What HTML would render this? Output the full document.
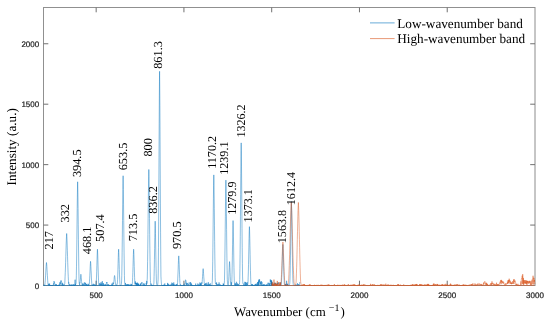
<!DOCTYPE html>
<html lang="en"><head><meta charset="utf-8"><title>Raman spectrum</title>
<style>html,body{margin:0;padding:0;background:#fff}body{width:550px;height:324px;position:relative;overflow:hidden}</style></head>
<body>
<svg width="550" height="324" viewBox="0 0 550 324" style="position:absolute;left:0;top:0">
<rect width="550" height="324" fill="#fff"/>
<path d="M43.5,285.5V7.5H535.0M43.5,285.5H535.0" fill="none" stroke="#909090" stroke-width="1" shape-rendering="crispEdges"/>
<path d="M535.0,7.0V286.0" fill="none" stroke="#8c8c8c" stroke-width="1"/>
<path d="M96.16,285.5v-4.8M96.16,7.5v4.8M183.93,285.5v-4.8M183.93,7.5v4.8M271.70,285.5v-4.8M271.70,7.5v4.8M359.46,285.5v-4.8M359.46,7.5v4.8M447.23,285.5v-4.8M447.23,7.5v4.8M43.5,225.07h4.8M535.0,225.07h-4.8M43.5,164.63h4.8M535.0,164.63h-4.8M43.5,104.20h4.8M535.0,104.20h-4.8M43.5,43.76h4.8M535.0,43.76h-4.8" fill="none" stroke="#707070" stroke-width="1"/>
<path d="M43.50,285.50 43.68,285.50 43.85,284.81 44.03,285.48 44.20,284.82 44.38,285.38 44.55,285.22 44.73,284.99 44.90,284.54 45.08,282.19 45.26,280.73 45.43,277.94 45.61,275.17 45.78,271.96 45.96,269.00 46.13,266.17 46.31,264.00 46.48,262.53 46.66,264.00 46.84,266.28 47.01,269.14 47.19,272.27 47.36,275.31 47.54,277.97 47.71,280.73 47.89,282.83 48.06,284.49 48.24,284.70 48.41,283.97 48.59,284.89 48.77,285.45 48.94,285.48 49.12,283.51 49.29,285.32 49.47,284.03 49.64,283.77 49.82,285.50 49.99,285.50 50.17,285.50 50.35,285.50 50.52,285.50 50.70,285.50 50.87,285.50 51.05,285.50 51.22,285.50 51.40,285.50 51.57,285.50 51.75,285.50 51.93,285.50 52.10,285.12 52.28,285.50 52.45,285.41 52.63,285.50 52.80,285.50 52.98,285.47 53.15,285.49 53.33,284.33 53.51,284.53 53.68,283.31 53.86,284.51 54.03,281.09 54.21,282.65 54.38,282.46 54.56,282.32 54.73,283.66 54.91,283.79 55.09,285.09 55.26,285.37 55.44,285.47 55.61,284.25 55.79,285.50 55.96,285.50 56.14,285.50 56.31,285.50 56.49,284.22 56.67,285.50 56.84,285.50 57.02,285.50 57.19,285.50 57.37,285.50 57.54,285.18 57.72,285.50 57.89,285.50 58.07,285.20 58.25,285.50 58.42,285.50 58.60,285.50 58.77,285.01 58.95,285.50 59.12,284.40 59.30,285.50 59.47,285.50 59.65,284.37 59.82,282.39 60.00,283.13 60.18,284.76 60.35,282.58 60.53,283.44 60.70,281.95 60.88,280.63 61.05,281.49 61.23,280.66 61.40,283.07 61.58,284.20 61.76,284.96 61.93,285.32 62.11,285.46 62.28,283.82 62.46,282.79 62.63,285.11 62.81,283.68 62.98,285.50 63.16,285.50 63.34,285.11 63.51,284.77 63.69,285.46 63.86,285.02 64.04,284.64 64.21,285.14 64.39,284.84 64.56,284.34 64.74,283.53 64.92,280.84 65.09,276.81 65.27,272.54 65.44,268.04 65.62,262.55 65.79,256.72 65.97,250.79 66.14,245.11 66.32,240.11 66.50,236.16 66.67,233.52 66.85,236.16 67.02,240.11 67.20,245.11 67.37,250.78 67.55,256.73 67.72,262.59 67.90,267.82 68.08,272.93 68.25,276.81 68.43,280.57 68.60,283.53 68.78,282.44 68.95,283.95 69.13,285.14 69.30,284.22 69.48,285.41 69.65,285.46 69.83,285.48 70.01,285.19 70.18,284.80 70.36,285.50 70.53,285.50 70.71,285.30 70.88,285.50 71.06,284.49 71.23,285.50 71.41,285.50 71.59,285.44 71.76,285.50 71.94,285.50 72.11,284.23 72.29,285.50 72.46,285.50 72.64,285.50 72.81,285.50 72.99,285.50 73.17,285.50 73.34,285.50 73.52,285.50 73.69,284.02 73.87,285.50 74.04,285.50 74.22,285.50 74.39,285.50 74.57,284.80 74.75,285.50 74.92,284.15 75.10,279.70 75.27,285.46 75.45,284.04 75.62,284.75 75.80,283.78 75.97,283.90 76.15,282.18 76.33,275.82 76.50,266.17 76.68,254.01 76.85,239.79 77.03,224.15 77.20,208.58 77.38,194.93 77.55,184.99 77.64,181.79 77.73,184.99 77.91,194.93 78.08,208.58 78.26,224.15 78.43,239.78 78.61,254.00 78.78,266.08 78.96,276.21 79.13,282.17 79.31,283.89 79.48,283.79 79.66,285.00 79.84,282.26 80.01,282.66 80.19,281.30 80.36,279.94 80.54,277.87 80.71,275.76 80.89,274.27 81.06,275.65 81.24,277.91 81.42,279.01 81.59,281.62 81.77,283.41 81.94,285.15 82.12,285.33 82.29,285.46 82.47,285.49 82.64,283.54 82.82,284.21 83.00,285.31 83.17,283.70 83.35,284.58 83.52,284.73 83.70,285.50 83.87,285.32 84.05,284.20 84.22,282.66 84.40,282.25 84.58,282.70 84.75,285.50 84.93,285.50 85.10,283.52 85.28,284.13 85.45,282.79 85.63,284.13 85.80,283.86 85.98,285.50 86.16,283.93 86.33,285.31 86.51,284.44 86.68,284.49 86.86,285.44 87.03,285.05 87.21,285.50 87.38,284.84 87.56,285.38 87.73,285.50 87.91,285.50 88.09,283.74 88.26,285.50 88.44,284.57 88.61,285.26 88.79,285.42 88.96,285.29 89.14,284.90 89.31,283.99 89.49,281.33 89.67,278.89 89.84,275.24 90.02,271.13 90.19,266.91 90.37,263.68 90.54,261.44 90.56,261.33 90.72,263.09 90.89,266.34 91.07,270.24 91.25,273.96 91.42,277.99 91.60,280.96 91.77,283.39 91.95,284.91 92.12,284.50 92.30,285.41 92.47,285.47 92.65,285.49 92.83,285.50 93.00,284.60 93.18,285.50 93.35,285.50 93.53,283.77 93.70,284.42 93.88,284.08 94.05,284.99 94.23,285.50 94.41,285.50 94.58,285.50 94.76,284.30 94.93,285.36 95.11,285.50 95.28,285.43 95.46,285.47 95.63,284.97 95.81,285.27 95.99,284.92 96.16,283.73 96.34,281.16 96.51,277.04 96.69,271.67 96.86,265.66 97.04,259.66 97.21,254.12 97.39,250.23 97.46,249.24 97.56,250.85 97.74,255.15 97.92,260.83 98.09,267.08 98.27,272.96 98.44,277.97 98.62,282.01 98.79,284.38 98.97,283.93 99.14,285.31 99.32,285.43 99.50,284.96 99.67,283.64 99.85,283.10 100.02,285.37 100.20,285.50 100.37,283.88 100.55,284.95 100.72,284.86 100.90,283.00 101.08,282.17 101.25,284.05 101.43,284.64 101.60,283.61 101.78,285.50 101.95,284.36 102.13,285.50 102.30,281.13 102.48,283.34 102.66,284.28 102.83,284.91 103.01,285.50 103.18,284.06 103.36,283.03 103.53,285.50 103.71,284.64 103.88,284.77 104.06,285.50 104.24,284.85 104.41,284.47 104.59,285.50 104.76,285.50 104.94,285.24 105.11,285.50 105.29,285.50 105.46,284.63 105.64,285.47 105.82,284.43 105.99,285.11 106.17,284.57 106.34,283.77 106.52,282.98 106.69,282.18 106.87,282.98 107.04,282.42 107.22,284.57 107.40,284.79 107.57,285.37 107.75,285.47 107.92,284.20 108.10,285.50 108.27,285.50 108.45,285.50 108.62,284.43 108.80,285.04 108.97,285.50 109.15,285.50 109.33,285.50 109.50,285.50 109.68,285.50 109.85,285.50 110.03,285.50 110.20,285.50 110.38,285.46 110.55,285.45 110.73,285.50 110.91,285.21 111.08,285.50 111.26,285.50 111.43,285.36 111.61,285.50 111.78,284.54 111.96,285.50 112.13,283.30 112.31,285.50 112.49,285.02 112.66,285.49 112.84,283.59 113.01,282.48 113.19,282.80 113.36,283.07 113.54,284.26 113.71,283.01 113.89,281.41 114.07,279.72 114.24,277.26 114.42,276.32 114.59,275.53 114.77,276.27 114.94,277.96 115.12,279.72 115.29,281.47 115.47,282.69 115.65,284.11 115.82,284.73 116.00,284.35 116.17,285.44 116.35,285.48 116.52,285.48 116.70,285.45 116.87,285.37 117.05,284.66 117.23,284.18 117.40,282.89 117.58,279.70 117.75,275.08 117.93,269.40 118.10,263.36 118.28,257.32 118.45,252.33 118.63,249.24 118.80,252.35 118.98,257.31 119.16,263.29 119.33,269.37 119.51,274.90 119.68,279.18 119.86,283.39 120.03,284.69 120.21,284.89 120.38,285.37 120.56,285.44 120.74,285.45 120.91,285.38 121.09,285.19 121.26,284.75 121.44,283.81 121.61,280.95 121.79,275.67 121.96,265.00 122.14,252.21 122.32,237.12 122.49,220.58 122.67,204.10 122.84,189.65 123.02,179.13 123.11,175.75 123.19,179.13 123.37,189.65 123.54,204.10 123.72,220.58 123.90,237.12 124.07,252.19 124.25,265.09 124.42,275.46 124.60,281.99 124.77,283.19 124.95,284.75 125.12,285.19 125.30,285.22 125.48,282.96 125.65,285.49 125.83,285.13 126.00,285.50 126.18,285.50 126.35,285.50 126.53,284.24 126.70,285.50 126.88,285.50 127.06,285.50 127.23,285.50 127.41,284.50 127.58,284.10 127.76,285.50 127.93,284.38 128.11,285.50 128.28,285.50 128.46,284.57 128.63,285.50 128.81,285.50 128.99,284.43 129.16,284.69 129.34,285.18 129.51,285.50 129.69,285.50 129.86,284.75 130.04,285.50 130.21,285.50 130.39,285.50 130.57,285.50 130.74,285.50 130.92,283.86 131.09,285.50 131.27,285.50 131.44,285.49 131.62,284.27 131.79,285.42 131.97,285.29 132.15,284.97 132.32,283.91 132.50,281.42 132.67,277.51 132.85,272.38 133.02,266.47 133.20,260.25 133.37,254.65 133.55,250.53 133.64,249.24 133.73,250.52 133.90,254.60 134.08,260.27 134.25,266.43 134.43,272.04 134.60,277.51 134.78,281.65 134.95,284.29 135.13,284.48 135.31,281.37 135.48,284.02 135.66,282.88 135.83,284.68 136.01,285.50 136.18,285.50 136.36,282.88 136.53,284.04 136.71,285.50 136.88,282.90 137.06,285.50 137.24,282.98 137.41,282.61 137.59,285.50 137.76,285.50 137.94,283.57 138.11,285.50 138.29,283.64 138.46,285.50 138.64,283.89 138.82,284.93 138.99,285.50 139.17,285.50 139.34,285.00 139.52,285.50 139.69,285.50 139.87,285.50 140.04,284.76 140.22,285.50 140.40,283.56 140.57,285.49 140.75,285.46 140.92,284.08 141.10,283.47 141.27,284.37 141.45,283.39 141.62,282.43 141.80,282.02 141.98,282.43 142.15,282.44 142.33,284.37 142.50,285.03 142.68,285.35 142.85,285.46 143.03,285.49 143.20,285.47 143.38,285.50 143.56,285.50 143.73,283.33 143.91,285.50 144.08,285.50 144.26,283.71 144.43,285.50 144.61,285.50 144.78,285.26 144.96,285.50 145.14,285.50 145.31,285.11 145.49,285.50 145.66,285.50 145.84,285.49 146.01,285.48 146.19,282.95 146.36,285.17 146.54,284.63 146.72,280.94 146.89,283.60 147.07,280.59 147.24,279.14 147.42,271.86 147.59,261.40 147.77,248.80 147.94,234.35 148.12,218.64 148.29,202.82 148.47,188.39 148.65,176.89 148.82,169.47 149.00,176.89 149.17,188.39 149.35,202.82 149.52,218.64 149.70,234.35 149.87,248.80 150.05,261.40 150.23,271.90 150.40,280.47 150.58,282.66 150.75,284.20 150.93,284.89 151.10,283.61 151.28,285.39 151.45,285.46 151.63,285.48 151.81,285.49 151.98,284.75 152.16,285.38 152.33,285.50 152.51,285.50 152.68,285.50 152.86,285.22 153.03,285.48 153.21,285.44 153.39,285.32 153.56,285.00 153.74,284.28 153.91,282.81 154.09,276.37 154.26,268.80 154.44,259.24 154.61,248.44 154.79,237.58 154.97,228.25 155.14,221.99 155.18,221.20 155.32,225.31 155.49,233.56 155.67,244.02 155.84,255.00 156.02,265.17 156.19,273.71 156.37,280.14 156.55,283.53 156.72,283.45 156.90,285.22 157.07,285.39 157.25,285.42 157.42,285.34 157.60,285.06 157.77,284.35 157.95,281.86 158.12,279.49 158.30,268.87 158.48,247.75 158.65,221.82 158.83,191.09 159.00,157.28 159.18,123.79 159.35,95.06 159.53,75.16 159.58,71.32 159.70,81.86 159.88,105.69 160.06,136.87 160.23,170.99 160.41,203.88 160.58,232.81 160.76,256.76 160.93,276.13 161.11,279.65 161.28,281.97 161.46,283.96 161.64,285.21 161.81,284.95 161.99,285.47 162.16,285.49 162.34,285.50 162.51,285.50 162.69,285.50 162.86,285.50 163.04,285.14 163.22,284.97 163.39,285.50 163.57,285.50 163.74,285.06 163.92,285.50 164.09,284.50 164.27,285.50 164.44,285.50 164.62,285.50 164.80,283.43 164.97,285.50 165.15,285.50 165.32,285.28 165.50,285.50 165.67,285.50 165.85,285.50 166.02,285.50 166.20,285.50 166.38,285.50 166.55,285.50 166.73,285.50 166.90,285.14 167.08,285.50 167.25,285.50 167.43,285.50 167.60,282.91 167.78,285.50 167.95,284.98 168.13,283.79 168.31,285.50 168.48,285.50 168.66,285.12 168.83,284.30 169.01,285.50 169.18,285.50 169.36,285.50 169.53,285.50 169.71,285.24 169.89,285.50 170.06,285.50 170.24,285.50 170.41,285.50 170.59,285.50 170.76,285.50 170.94,285.50 171.11,283.94 171.29,285.50 171.47,284.61 171.64,284.02 171.82,282.62 171.99,283.14 172.17,284.15 172.34,284.44 172.52,284.71 172.69,283.21 172.87,285.50 173.05,284.22 173.22,285.12 173.40,284.77 173.57,285.50 173.75,282.43 173.92,285.50 174.10,285.11 174.27,285.17 174.45,284.81 174.63,285.10 174.80,285.22 174.98,284.56 175.15,285.50 175.33,285.50 175.50,285.50 175.68,285.50 175.85,285.50 176.03,285.50 176.21,285.50 176.38,284.43 176.56,285.37 176.73,285.48 176.91,283.93 177.08,285.33 177.26,285.07 177.43,284.51 177.61,282.36 177.78,278.14 177.96,274.03 178.14,269.96 178.31,264.65 178.49,260.22 178.66,256.91 178.75,255.87 178.84,256.87 179.01,260.29 179.19,264.89 179.36,269.93 179.54,274.80 179.72,278.81 179.89,282.36 180.07,284.51 180.24,285.07 180.42,285.33 180.59,284.47 180.77,285.48 180.94,285.15 181.12,285.50 181.30,285.50 181.47,285.50 181.65,285.50 181.82,285.50 182.00,285.50 182.17,285.50 182.35,285.50 182.52,285.50 182.70,285.50 182.88,285.50 183.05,285.50 183.23,285.50 183.40,285.50 183.58,285.50 183.75,284.58 183.93,284.30 184.10,284.46 184.28,285.50 184.46,285.08 184.63,285.28 184.81,285.35 184.98,283.27 185.16,283.60 185.33,283.32 185.51,279.76 185.68,280.15 185.86,280.36 186.03,280.79 186.21,282.33 186.39,285.03 186.56,284.63 186.74,282.82 186.91,285.42 187.09,284.56 187.26,284.30 187.44,283.12 187.61,283.52 187.79,284.27 187.97,285.50 188.14,284.64 188.32,285.30 188.49,285.20 188.67,283.99 188.84,284.14 189.02,283.53 189.19,282.43 189.37,283.53 189.55,283.83 189.72,284.77 189.90,285.20 190.07,285.40 190.25,285.48 190.42,285.50 190.60,281.99 190.77,284.85 190.95,284.14 191.13,283.14 191.30,284.92 191.48,284.23 191.65,285.50 191.83,284.95 192.00,285.50 192.18,284.85 192.35,285.42 192.53,285.50 192.71,285.50 192.88,285.50 193.06,285.28 193.23,285.50 193.41,285.50 193.58,285.50 193.76,285.50 193.93,285.50 194.11,285.50 194.29,285.50 194.46,285.50 194.64,285.50 194.81,285.50 194.99,285.50 195.16,285.50 195.34,285.50 195.51,285.50 195.69,283.59 195.87,285.50 196.04,285.50 196.22,285.50 196.39,285.50 196.57,285.50 196.74,285.50 196.92,285.50 197.09,285.50 197.27,285.50 197.44,285.50 197.62,285.50 197.80,283.50 197.97,285.40 198.15,285.50 198.32,285.50 198.50,285.50 198.67,284.44 198.85,285.50 199.02,285.50 199.20,284.88 199.38,285.50 199.55,284.86 199.73,285.50 199.90,282.47 200.08,285.50 200.25,285.50 200.43,284.97 200.60,283.33 200.78,285.20 200.96,283.62 201.13,285.49 201.31,285.46 201.48,282.78 201.66,282.52 201.83,282.42 202.01,283.68 202.18,281.80 202.36,279.43 202.54,276.64 202.71,273.57 202.89,271.06 203.06,269.30 203.15,268.65 203.24,269.27 203.41,271.16 203.59,273.79 203.76,276.68 203.94,278.96 204.12,281.47 204.29,283.12 204.47,284.94 204.64,284.13 204.82,284.84 204.99,285.46 205.17,283.95 205.34,284.86 205.52,283.19 205.70,284.55 205.87,284.62 206.05,284.36 206.22,284.82 206.40,285.50 206.57,285.50 206.75,282.81 206.92,285.50 207.10,285.50 207.27,284.86 207.45,285.38 207.63,285.29 207.80,285.17 207.98,284.49 208.15,285.50 208.33,282.26 208.50,285.50 208.68,285.50 208.85,285.50 209.03,285.50 209.21,285.50 209.38,284.04 209.56,285.50 209.73,285.50 209.91,284.94 210.08,285.20 210.26,283.33 210.43,284.58 210.61,285.50 210.79,285.50 210.96,285.50 211.14,285.49 211.31,285.48 211.49,285.44 211.66,285.34 211.84,285.09 212.01,284.53 212.19,281.99 212.37,280.78 212.54,272.42 212.72,261.29 212.89,247.61 213.07,231.84 213.24,215.00 213.42,198.79 213.59,185.25 213.77,176.11 213.80,174.90 213.95,180.99 214.12,192.94 214.30,208.33 214.47,225.15 214.65,241.52 214.82,256.08 215.00,268.14 215.17,277.82 215.35,282.47 215.53,283.62 215.70,283.43 215.88,283.25 216.05,282.90 216.23,284.25 216.40,285.49 216.58,282.47 216.75,284.12 216.93,284.12 217.10,284.40 217.28,285.50 217.46,285.50 217.63,284.91 217.81,284.02 217.98,285.46 218.16,285.50 218.33,285.50 218.51,285.34 218.68,284.07 218.86,284.82 219.04,282.43 219.21,283.82 219.39,283.90 219.56,284.42 219.74,285.50 219.91,284.50 220.09,284.80 220.26,285.50 220.44,284.77 220.62,285.03 220.79,285.50 220.97,285.50 221.14,285.50 221.32,285.40 221.49,285.50 221.67,285.04 221.84,285.50 222.02,285.50 222.20,285.50 222.37,285.50 222.55,285.22 222.72,285.50 222.90,285.50 223.07,285.50 223.25,283.40 223.42,285.48 223.60,284.05 223.78,285.33 223.95,285.07 224.13,283.84 224.30,283.31 224.48,280.53 224.65,271.95 224.83,261.23 225.00,247.97 225.18,232.79 225.36,216.71 225.53,201.43 225.71,188.88 225.88,180.65 225.90,180.10 226.06,186.85 226.23,198.64 226.41,213.53 226.58,229.60 226.76,245.06 226.93,258.75 227.11,270.22 227.29,279.28 227.46,282.17 227.64,284.31 227.81,284.97 227.99,285.21 228.16,285.18 228.34,284.83 228.51,283.35 228.69,280.39 228.87,276.65 229.04,272.26 229.22,267.75 229.39,263.93 229.57,261.57 229.74,263.92 229.92,267.75 230.09,272.26 230.27,276.65 230.45,280.40 230.62,283.35 230.80,284.85 230.97,285.22 231.15,285.33 231.32,282.30 231.50,284.83 231.67,283.92 231.85,281.13 232.03,274.37 232.20,265.92 232.38,255.82 232.55,244.75 232.73,234.06 232.90,225.44 233.06,220.59 233.08,220.97 233.25,226.92 233.43,236.08 233.61,246.98 233.78,257.95 233.96,267.64 234.13,275.85 234.31,281.74 234.48,282.93 234.66,284.68 234.83,285.29 235.01,283.65 235.19,285.48 235.36,285.49 235.54,285.50 235.71,283.32 235.89,284.69 236.06,285.50 236.24,283.54 236.41,281.79 236.59,282.18 236.76,285.35 236.94,284.52 237.12,283.97 237.29,283.48 237.47,284.67 237.64,285.50 237.82,283.81 237.99,284.05 238.17,285.50 238.34,285.45 238.52,284.64 238.70,285.04 238.87,284.35 239.05,283.93 239.22,284.02 239.40,284.16 239.57,282.74 239.75,279.39 239.92,268.67 240.10,254.24 240.28,236.64 240.45,216.31 240.63,194.59 240.80,173.68 240.98,156.21 241.15,144.43 241.19,142.87 241.33,150.72 241.50,166.14 241.68,185.98 241.86,207.68 242.03,228.78 242.21,247.59 242.38,263.40 242.56,276.02 242.73,281.47 242.91,283.67 243.08,283.64 243.26,283.69 243.44,283.62 243.61,285.46 243.79,284.76 243.96,285.22 244.14,285.50 244.31,285.50 244.49,284.85 244.66,285.50 244.84,281.81 245.02,284.78 245.19,284.93 245.37,285.14 245.54,282.10 245.72,285.50 245.89,284.75 246.07,285.50 246.24,284.63 246.42,284.47 246.59,282.93 246.77,285.50 246.95,284.34 247.12,282.11 247.30,284.84 247.47,284.24 247.65,284.80 247.82,284.27 248.00,282.30 248.17,277.18 248.35,271.92 248.53,264.54 248.70,256.05 248.88,247.08 249.05,238.55 249.23,231.54 249.40,226.94 249.42,226.64 249.58,230.40 249.75,236.99 249.93,245.31 250.11,254.27 250.28,262.88 250.46,270.56 250.63,276.96 250.81,282.19 250.98,284.08 251.16,284.84 251.33,285.00 251.51,285.39 251.69,284.23 251.86,284.97 252.04,284.37 252.21,285.50 252.39,285.50 252.56,284.27 252.74,284.63 252.91,285.50 253.09,285.50 253.27,285.50 253.44,285.50 253.62,285.50 253.79,285.50 253.97,285.25 254.14,285.50 254.32,285.50 254.49,285.50 254.67,285.50 254.84,285.50 255.02,284.32 255.20,285.07 255.37,284.81 255.55,283.96 255.72,285.50 255.90,285.50 256.07,285.13 256.25,283.51 256.42,283.63 256.60,285.50 256.78,285.40 256.95,284.70 257.13,285.50 257.30,285.50 257.48,285.50 257.65,282.17 257.83,285.50 258.00,281.95 258.18,284.38 258.36,285.46 258.53,280.45 258.71,285.07 258.88,282.12 259.06,279.35 259.23,282.19 259.41,282.32 259.58,279.44 259.76,281.94 259.94,284.47 260.11,285.07 260.29,284.39 260.46,282.11 260.64,284.35 260.81,282.75 260.99,281.02 261.16,281.73 261.34,281.46 261.52,281.85 261.69,285.50 261.87,281.93 262.04,283.57 262.22,284.42 262.39,285.50 262.57,285.50 262.74,285.50 262.92,284.80 263.10,285.50 263.27,285.50 263.45,285.50 263.62,284.49 263.80,285.50 263.97,285.50 264.15,283.99 264.32,285.50 264.50,285.50 264.68,285.50 264.85,285.50 265.03,285.50 265.20,285.50 265.38,285.50 265.55,285.50 265.73,285.50 265.90,285.50 266.08,284.35 266.25,284.47 266.43,285.50 266.61,284.79 266.78,285.50 266.96,285.07 267.13,285.47 267.31,285.37 267.48,283.76 267.66,284.43 267.83,283.74 268.01,282.94 268.19,282.60 268.36,282.94 268.54,283.74 268.71,284.53 268.89,283.41 269.06,285.37 269.24,283.33 269.41,283.47 269.59,285.50 269.77,285.50 269.94,283.17 270.12,283.36 270.29,279.46 270.47,281.04 270.64,282.06 270.82,279.88 270.99,285.19 271.17,282.96 271.35,284.24 271.52,280.42 271.70,283.16 271.87,285.50 272.05,282.14 272.22,285.50 272.40,284.00 272.57,285.50 272.75,285.50 272.93,285.25 273.10,285.50 273.28,285.50 273.45,283.93 273.63,285.50 273.80,285.50 273.98,285.23 274.15,285.48 274.33,282.63 274.50,285.20 274.68,284.78 274.86,284.16 275.03,283.55 275.21,283.29 275.38,283.55 275.56,284.16 275.73,282.80 275.91,285.02 276.08,285.40 276.26,285.05 276.44,284.41 276.61,284.00 276.79,285.32 276.96,285.42 277.14,283.30 277.31,284.89 277.49,283.70 277.66,283.85 277.84,282.79 278.02,283.85 278.19,283.10 278.37,282.34 278.54,284.03 278.72,285.42 278.89,285.48 279.07,285.50 279.24,285.50 279.42,285.50 279.60,285.50 279.77,285.50 279.95,285.14 280.12,284.69 280.30,282.25 280.47,285.49 280.65,284.67 280.82,285.41 281.00,285.28 281.18,285.00 281.35,284.44 281.53,281.22 281.70,277.49 281.88,274.39 282.05,269.09 282.23,263.05 282.40,256.79 282.58,251.11 282.76,246.66 282.90,244.40 282.93,244.84 283.11,248.23 283.28,253.27 283.46,259.27 283.63,265.28 283.81,271.34 283.98,275.90 284.16,280.51 284.34,283.89 284.51,284.71 284.69,285.14 284.86,285.35 285.04,285.44 285.21,285.48 285.39,283.96 285.56,285.50 285.74,284.49 285.91,285.50 286.09,284.81 286.27,285.50 286.44,285.50 286.62,280.78 286.79,284.37 286.97,283.88 287.14,285.34 287.32,283.93 287.49,285.50 287.67,285.50 287.85,284.43 288.02,283.79 288.20,285.50 288.37,285.50 288.55,285.50 288.72,285.49 288.90,285.47 289.07,285.42 289.25,285.29 289.43,285.01 289.60,284.44 289.78,283.34 289.95,280.61 290.13,273.63 290.30,265.18 290.48,255.16 290.65,243.80 290.83,231.79 291.01,220.22 291.18,210.36 291.36,203.34 291.43,201.50 291.53,204.48 291.71,212.14 291.88,222.44 292.06,234.20 292.23,246.15 292.41,257.26 292.59,266.99 292.76,275.13 292.94,281.04 293.11,283.37 293.29,284.58 293.46,285.09 293.64,285.32 293.81,285.43 293.99,285.47 294.17,285.49 294.34,285.50 294.52,285.50 294.69,285.50 294.87,285.42 295.04,285.50 295.22,285.50 295.39,285.50 295.57,285.50 295.74,285.50 295.92,285.50 296.10,284.30 296.27,285.50 296.45,285.50 296.62,285.50 296.80,285.50 296.97,285.50 297.15,285.50 297.32,285.50 297.50,283.28 297.68,285.50 297.85,284.73 298.03,285.50 298.20,285.50 298.38,285.50 298.55,284.02 298.73,284.49 298.90,285.50 299.08,285.50 299.26,285.50 299.43,285.50 299.61,285.50 299.78,282.05" fill="none" stroke="#0072BD" stroke-opacity="0.9" stroke-width="0.5" stroke-linejoin="round"/>
<path d="M271.70,283.70 271.87,285.50 272.05,285.50 272.22,285.50 272.40,282.42 272.57,285.23 272.75,285.50 272.93,283.47 273.10,285.50 273.28,285.50 273.45,285.25 273.63,285.23 273.80,285.50 273.98,279.58 274.15,285.14 274.33,283.65 274.50,284.39 274.68,285.50 274.86,285.50 275.03,284.20 275.21,282.83 275.38,285.40 275.56,284.08 275.73,285.49 275.91,283.80 276.08,285.50 276.26,283.78 276.44,285.50 276.61,285.50 276.79,285.50 276.96,285.50 277.14,283.77 277.31,280.90 277.49,285.50 277.66,285.50 277.84,283.99 278.02,284.32 278.19,285.50 278.37,285.12 278.54,285.48 278.72,284.00 278.89,283.79 279.07,282.43 279.24,283.71 279.42,284.12 279.60,284.86 279.77,283.83 279.95,285.46 280.12,282.29 280.30,284.71 280.47,283.25 280.65,284.88 280.82,283.24 281.00,283.26 281.18,281.03 281.35,277.87 281.53,274.20 281.70,269.79 281.88,265.29 282.05,260.43 282.23,255.46 282.40,250.79 282.58,246.76 282.76,243.66 282.90,241.99 282.93,242.33 283.11,244.77 283.28,248.27 283.46,252.60 283.63,257.43 283.81,262.42 283.98,267.26 284.16,271.70 284.34,275.73 284.51,279.19 284.69,281.16 284.86,283.49 285.04,284.63 285.21,283.92 285.39,284.46 285.56,285.00 285.74,285.23 285.91,284.97 286.09,284.63 286.27,285.42 286.44,285.49 286.62,285.12 286.79,285.46 286.97,285.29 287.14,285.39 287.32,285.18 287.49,285.13 287.67,284.66 287.85,284.50 288.02,284.12 288.20,283.65 288.37,282.65 288.55,281.99 288.72,278.33 288.90,274.73 289.07,270.32 289.25,265.47 289.43,260.15 289.60,254.32 289.78,248.09 289.95,241.57 290.13,234.90 290.30,228.28 290.48,221.91 290.65,216.04 290.83,210.86 291.01,206.58 291.18,203.32 291.27,202.10 291.36,203.32 291.53,206.58 291.71,210.86 291.88,216.04 292.06,221.91 292.23,228.28 292.41,234.90 292.59,241.57 292.76,248.10 292.94,254.32 293.11,260.13 293.29,265.49 293.46,270.35 293.64,274.62 293.81,278.65 293.99,282.03 294.17,283.07 294.34,283.58 294.52,284.32 294.69,284.27 294.87,284.94 295.04,285.04 295.22,285.03 295.39,284.88 295.57,284.58 295.74,283.78 295.92,283.22 296.10,282.07 296.27,278.05 296.45,273.25 296.62,267.72 296.80,261.63 296.97,254.79 297.15,247.37 297.32,239.56 297.50,231.62 297.68,223.91 297.85,216.80 298.03,210.67 298.20,205.82 298.38,202.46 298.55,205.82 298.73,210.67 298.90,216.80 299.08,223.91 299.26,231.62 299.43,239.56 299.61,247.37 299.78,254.79 299.96,261.63 300.13,267.79 300.31,273.24 300.48,278.06 300.66,281.83 300.84,283.27 301.01,283.76 301.19,284.64 301.36,284.99 301.54,285.21 301.71,285.34 301.89,285.41 302.06,284.87 302.24,285.44 302.42,284.85 302.59,284.72 302.77,285.40 302.94,285.18 303.12,285.16 303.29,284.31 303.47,284.88 303.64,284.91 303.82,284.66 304.00,285.17 304.17,284.03 304.35,285.50 304.52,284.60 304.70,284.57 304.87,285.50 305.05,285.00 305.22,285.39 305.40,285.11 305.57,285.50 305.75,285.50 305.93,285.50 306.10,285.50 306.28,284.98 306.45,285.50 306.63,285.50 306.80,285.50 306.98,285.50 307.15,285.40 307.33,285.50 307.51,285.50 307.68,285.34 307.86,285.50 308.03,285.50 308.21,285.50 308.38,284.87 308.56,285.50 308.73,285.50 308.91,285.50 309.09,285.50 309.26,285.40 309.44,284.80 309.61,285.50 309.79,285.50 309.96,284.03 310.14,285.30 310.31,285.50 310.49,285.46 310.67,285.50 310.84,285.30 311.02,285.12 311.19,285.50 311.37,285.23 311.54,285.50 311.72,285.50 311.89,285.50 312.07,285.50 312.25,285.50 312.42,285.50 312.60,285.50 312.77,285.50 312.95,285.50 313.12,285.50 313.30,285.50 313.47,285.50 313.65,285.50 313.82,285.50 314.00,285.50 314.18,284.99 314.35,285.50 314.53,284.78 314.70,285.50 314.88,285.12 315.05,285.50 315.23,285.15 315.40,285.50 315.58,285.50 315.76,285.50 315.93,285.50 316.11,285.50 316.28,285.02 316.46,285.37 316.63,284.89 316.81,285.50 316.98,285.50 317.16,285.43 317.34,285.50 317.51,285.50 317.69,285.50 317.86,285.50 318.04,285.50 318.21,284.79 318.39,285.27 318.56,285.50 318.74,285.50 318.92,285.04 319.09,285.41 319.27,285.50 319.44,285.50 319.62,285.50 319.79,285.50 319.97,285.50 320.14,285.26 320.32,285.50 320.50,285.50 320.67,285.50 320.85,285.30 321.02,284.52 321.20,285.38 321.37,285.17 321.55,285.50 321.72,285.50 321.90,285.50 322.08,284.81 322.25,285.50 322.43,285.50 322.60,285.50 322.78,285.50 322.95,284.91 323.13,285.38 323.30,285.50 323.48,285.50 323.66,285.34 323.83,285.50 324.01,285.50 324.18,285.50 324.36,285.23 324.53,285.50 324.71,285.50 324.88,285.50 325.06,284.86 325.23,285.50 325.41,285.08 325.59,285.50 325.76,285.50 325.94,285.50 326.11,285.50 326.29,285.50 326.46,285.38 326.64,285.50 326.81,285.50 326.99,285.16 327.17,284.70 327.34,284.97 327.52,285.39 327.69,285.07 327.87,285.50 328.04,285.41 328.22,284.49 328.39,284.85 328.57,285.50 328.75,284.63 328.92,285.26 329.10,284.80 329.27,285.50 329.45,285.50 329.62,285.20 329.80,285.26 329.97,285.17 330.15,285.50 330.33,285.50 330.50,285.37 330.68,285.19 330.85,285.50 331.03,285.50 331.20,285.50 331.38,285.49 331.55,284.96 331.73,285.50 331.91,285.18 332.08,285.50 332.26,285.50 332.43,285.50 332.61,285.50 332.78,285.50 332.96,285.50 333.13,285.50 333.31,285.50 333.49,285.50 333.66,285.50 333.84,285.50 334.01,285.32 334.19,285.08 334.36,284.04 334.54,285.50 334.71,285.50 334.89,285.50 335.06,285.44 335.24,285.50 335.42,285.50 335.59,285.50 335.77,285.50 335.94,285.50 336.12,285.50 336.29,285.20 336.47,285.50 336.64,285.50 336.82,285.50 337.00,285.13 337.17,285.50 337.35,285.50 337.52,285.14 337.70,285.50 337.87,284.67 338.05,284.84 338.22,285.50 338.40,285.32 338.58,285.50 338.75,285.50 338.93,285.08 339.10,285.44 339.28,285.22 339.45,285.12 339.63,284.95 339.80,285.20 339.98,285.50 340.16,285.50 340.33,285.50 340.51,285.50 340.68,285.50 340.86,284.90 341.03,285.50 341.21,284.94 341.38,285.50 341.56,285.50 341.74,285.50 341.91,285.50 342.09,285.50 342.26,285.50 342.44,285.50 342.61,284.61 342.79,285.22 342.96,285.50 343.14,285.50 343.31,285.04 343.49,285.13 343.67,285.50 343.84,284.86 344.02,285.50 344.19,285.50 344.37,284.31 344.54,285.50 344.72,285.39 344.89,284.67 345.07,285.31 345.25,285.50 345.42,285.50 345.60,285.50 345.77,285.50 345.95,285.23 346.12,285.50 346.30,285.33 346.47,285.45 346.65,285.22 346.83,285.50 347.00,285.50 347.18,285.50 347.35,285.50 347.53,285.50 347.70,285.50 347.88,285.21 348.05,285.13 348.23,284.23 348.41,285.22 348.58,284.70 348.76,285.34 348.93,285.50 349.11,285.44 349.28,285.50 349.46,285.50 349.63,285.50 349.81,285.50 349.99,285.06 350.16,285.11 350.34,285.48 350.51,285.26 350.69,284.76 350.86,285.50 351.04,285.50 351.21,285.50 351.39,285.28 351.57,285.50 351.74,285.50 351.92,284.83 352.09,285.43 352.27,284.55 352.44,284.78 352.62,285.50 352.79,285.28 352.97,285.50 353.15,285.50 353.32,285.35 353.50,284.82 353.67,284.25 353.85,285.50 354.02,284.66 354.20,285.11 354.37,285.33 354.55,284.59 354.72,285.50 354.90,284.57 355.08,285.50 355.25,285.50 355.43,285.12 355.60,285.50 355.78,285.50 355.95,285.50 356.13,285.50 356.30,285.50 356.48,285.50 356.66,285.50 356.83,285.41 357.01,285.38 357.18,285.50 357.36,285.50 357.53,285.50 357.71,285.06 357.88,285.50 358.06,284.77 358.24,285.50 358.41,284.70 358.59,284.97 358.76,285.50 358.94,285.50 359.11,285.24 359.29,284.76 359.46,285.50 359.64,285.50 359.82,284.87 359.99,284.92 360.17,285.50 360.34,285.50 360.52,285.01 360.69,285.50 360.87,285.22 361.04,284.86 361.22,285.45 361.40,285.50 361.57,284.85 361.75,284.91 361.92,284.80 362.10,285.19 362.27,285.50 362.45,284.82 362.62,285.39 362.80,284.96 362.98,285.50 363.15,285.50 363.33,285.44 363.50,284.26 363.68,284.98 363.85,285.19 364.03,285.50 364.20,284.63 364.38,284.84 364.55,284.83 364.73,284.41 364.91,284.66 365.08,285.18 365.26,285.13 365.43,285.29 365.61,285.00 365.78,285.10 365.96,285.50 366.13,285.50 366.31,285.26 366.49,285.31 366.66,285.50 366.84,285.50 367.01,285.50 367.19,285.50 367.36,285.50 367.54,285.38 367.71,285.50 367.89,285.50 368.07,285.39 368.24,285.50 368.42,285.50 368.59,285.50 368.77,285.50 368.94,285.50 369.12,285.50 369.29,285.50 369.47,285.50 369.65,285.50 369.82,285.50 370.00,285.50 370.17,285.22 370.35,285.50 370.52,283.82 370.70,285.14 370.87,285.50 371.05,285.50 371.23,285.28 371.40,285.23 371.58,285.19 371.75,285.17 371.93,285.50 372.10,285.02 372.28,284.07 372.45,285.50 372.63,285.50 372.81,284.94 372.98,284.61 373.16,284.86 373.33,284.62 373.51,285.39 373.68,285.50 373.86,284.95 374.03,284.94 374.21,284.32 374.38,284.39 374.56,285.50 374.74,284.86 374.91,285.50 375.09,285.50 375.26,285.15 375.44,285.50 375.61,285.50 375.79,285.50 375.96,285.50 376.14,285.50 376.32,285.50 376.49,285.50 376.67,285.50 376.84,285.50 377.02,285.49 377.19,285.50 377.37,285.50 377.54,285.50 377.72,285.38 377.90,284.82 378.07,285.27 378.25,285.50 378.42,285.16 378.60,285.50 378.77,285.50 378.95,285.34 379.12,285.09 379.30,285.25 379.48,285.21 379.65,285.50 379.83,285.38 380.00,284.87 380.18,285.50 380.35,285.50 380.53,285.21 380.70,284.08 380.88,284.57 381.06,284.01 381.23,284.14 381.41,285.29 381.58,285.09 381.76,285.50 381.93,284.40 382.11,284.72 382.28,284.85 382.46,284.84 382.63,285.01 382.81,285.20 382.99,285.20 383.16,284.66 383.34,285.50 383.51,285.50 383.69,285.38 383.86,284.62 384.04,285.15 384.21,285.39 384.39,284.71 384.57,285.12 384.74,285.50 384.92,285.50 385.09,285.50 385.27,285.17 385.44,285.28 385.62,284.73 385.79,283.69 385.97,285.37 386.15,285.00 386.32,285.24 386.50,285.50 386.67,285.48 386.85,285.46 387.02,284.84 387.20,285.50 387.37,285.50 387.55,284.65 387.73,285.13 387.90,285.50 388.08,285.50 388.25,285.49 388.43,284.86 388.60,284.56 388.78,285.50 388.95,284.86 389.13,285.50 389.31,285.50 389.48,285.20 389.66,285.50 389.83,285.34 390.01,285.50 390.18,285.50 390.36,285.50 390.53,284.85 390.71,284.88 390.89,285.43 391.06,285.50 391.24,285.50 391.41,284.83 391.59,285.05 391.76,285.36 391.94,285.50 392.11,285.50 392.29,285.50 392.47,285.10 392.64,285.50 392.82,285.50 392.99,284.91 393.17,285.38 393.34,284.84 393.52,285.50 393.69,285.50 393.87,285.07 394.04,285.50 394.22,285.50 394.40,285.50 394.57,285.50 394.75,285.02 394.92,285.50 395.10,285.50 395.27,285.42 395.45,285.50 395.62,285.50 395.80,285.50 395.98,285.50 396.15,285.50 396.33,285.50 396.50,285.14 396.68,285.50 396.85,285.36 397.03,285.50 397.20,285.50 397.38,285.09 397.56,285.04 397.73,284.02 397.91,284.73 398.08,285.46 398.26,284.69 398.43,285.27 398.61,284.17 398.78,285.50 398.96,285.50 399.14,285.50 399.31,285.27 399.49,285.47 399.66,285.50 399.84,285.50 400.01,285.41 400.19,284.65 400.36,284.69 400.54,285.50 400.72,285.37 400.89,285.50 401.07,285.50 401.24,284.97 401.42,285.34 401.59,285.50 401.77,285.50 401.94,285.27 402.12,285.50 402.30,285.50 402.47,285.50 402.65,285.50 402.82,285.50 403.00,285.50 403.17,285.09 403.35,285.50 403.52,285.50 403.70,284.39 403.87,284.69 404.05,285.10 404.23,285.42 404.40,285.21 404.58,285.50 404.75,285.40 404.93,285.25 405.10,285.50 405.28,285.21 405.45,285.50 405.63,285.43 405.81,285.50 405.98,285.50 406.16,285.50 406.33,285.50 406.51,285.50 406.68,285.50 406.86,285.50 407.03,285.20 407.21,285.50 407.39,285.25 407.56,285.41 407.74,285.50 407.91,285.03 408.09,285.50 408.26,285.50 408.44,285.50 408.61,285.50 408.79,285.50 408.97,285.50 409.14,285.50 409.32,285.50 409.49,285.50 409.67,285.50 409.84,285.50 410.02,285.50 410.19,285.50 410.37,285.50 410.55,285.26 410.72,284.91 410.90,285.50 411.07,284.78 411.25,285.50 411.42,284.87 411.60,285.50 411.77,285.10 411.95,285.50 412.12,285.50 412.30,285.46 412.48,284.17 412.65,285.43 412.83,284.58 413.00,284.89 413.18,284.81 413.35,284.81 413.53,284.63 413.70,285.50 413.88,285.03 414.06,284.85 414.23,285.45 414.41,284.87 414.58,285.50 414.76,284.67 414.93,285.50 415.11,285.28 415.28,284.57 415.46,284.36 415.64,285.36 415.81,285.37 415.99,284.32 416.16,285.50 416.34,284.03 416.51,284.03 416.69,285.48 416.86,284.02 417.04,284.51 417.22,284.51 417.39,285.50 417.57,285.23 417.74,285.10 417.92,285.30 418.09,285.35 418.27,285.34 418.44,285.50 418.62,285.41 418.80,285.50 418.97,285.46 419.15,285.50 419.32,285.41 419.50,285.17 419.67,284.17 419.85,285.50 420.02,284.11 420.20,285.27 420.38,285.50 420.55,285.50 420.73,284.40 420.90,285.50 421.08,284.25 421.25,284.55 421.43,285.20 421.60,285.33 421.78,284.67 421.96,284.95 422.13,284.65 422.31,285.19 422.48,285.50 422.66,284.98 422.83,285.50 423.01,284.93 423.18,285.50 423.36,285.50 423.53,285.50 423.71,285.50 423.89,285.50 424.06,284.67 424.24,284.92 424.41,285.50 424.59,285.50 424.76,284.42 424.94,285.23 425.11,285.50 425.29,285.50 425.47,285.50 425.64,284.66 425.82,285.19 425.99,285.50 426.17,284.87 426.34,285.50 426.52,285.50 426.69,285.50 426.87,285.50 427.05,284.10 427.22,285.50 427.40,285.37 427.57,284.23 427.75,284.15 427.92,285.50 428.10,283.86 428.27,284.51 428.45,285.50 428.63,284.12 428.80,285.50 428.98,284.92 429.15,285.50 429.33,285.50 429.50,284.91 429.68,285.22 429.85,285.50 430.03,285.44 430.21,285.50 430.38,285.50 430.56,285.50 430.73,285.33 430.91,285.50 431.08,285.50 431.26,285.50 431.43,285.50 431.61,285.50 431.79,285.50 431.96,285.50 432.14,284.95 432.31,285.50 432.49,285.50 432.66,285.50 432.84,285.01 433.01,285.16 433.19,285.38 433.36,283.92 433.54,285.27 433.72,284.99 433.89,283.35 434.07,285.50 434.24,284.45 434.42,284.77 434.59,285.50 434.77,285.41 434.94,284.44 435.12,285.50 435.30,285.05 435.47,284.30 435.65,285.04 435.82,284.68 436.00,285.27 436.17,285.31 436.35,285.37 436.52,285.26 436.70,284.69 436.88,285.12 437.05,283.95 437.23,284.94 437.40,285.19 437.58,283.97 437.75,285.50 437.93,285.50 438.10,285.50 438.28,285.50 438.46,285.29 438.63,284.73 438.81,285.20 438.98,285.50 439.16,285.50 439.33,285.28 439.51,284.81 439.68,285.50 439.86,285.50 440.04,284.85 440.21,285.41 440.39,285.34 440.56,285.26 440.74,285.50 440.91,285.50 441.09,284.92 441.26,285.50 441.44,285.50 441.62,285.46 441.79,285.42 441.97,284.02 442.14,285.50 442.32,285.50 442.49,284.34 442.67,285.50 442.84,285.32 443.02,285.50 443.19,284.84 443.37,284.86 443.55,284.85 443.72,285.46 443.90,285.05 444.07,285.29 444.25,284.64 444.42,285.16 444.60,284.66 444.77,285.50 444.95,285.44 445.13,285.50 445.30,285.37 445.48,284.79 445.65,285.49 445.83,283.80 446.00,285.50 446.18,285.50 446.35,285.50 446.53,285.50 446.71,285.50 446.88,285.50 447.06,285.50 447.23,284.23 447.41,285.50 447.58,285.03 447.76,285.50 447.93,285.50 448.11,285.37 448.29,285.50 448.46,285.50 448.64,285.50 448.81,285.50 448.99,285.11 449.16,284.78 449.34,285.50 449.51,285.50 449.69,285.46 449.87,285.25 450.04,284.70 450.22,284.38 450.39,285.45 450.57,283.56 450.74,284.68 450.92,285.50 451.09,284.43 451.27,284.99 451.44,285.09 451.62,285.50 451.80,285.50 451.97,285.50 452.15,285.50 452.32,285.36 452.50,285.09 452.67,285.02 452.85,285.31 453.02,285.50 453.20,284.80 453.38,285.50 453.55,285.17 453.73,285.50 453.90,285.50 454.08,285.50 454.25,285.22 454.43,285.50 454.60,285.14 454.78,284.44 454.96,285.50 455.13,285.50 455.31,284.76 455.48,284.68 455.66,285.10 455.83,285.27 456.01,285.50 456.18,284.97 456.36,285.40 456.54,284.62 456.71,284.27 456.89,285.27 457.06,284.62 457.24,284.86 457.41,284.61 457.59,284.15 457.76,284.83 457.94,284.89 458.12,284.93 458.29,285.50 458.47,285.50 458.64,285.50 458.82,285.01 458.99,285.07 459.17,284.51 459.34,285.50 459.52,285.50 459.70,285.50 459.87,285.50 460.05,285.50 460.22,285.31 460.40,285.50 460.57,285.50 460.75,285.50 460.92,285.50 461.10,284.97 461.28,285.50 461.45,285.50 461.63,285.50 461.80,285.49 461.98,285.50 462.15,285.50 462.33,285.50 462.50,284.89 462.68,285.50 462.85,285.50 463.03,284.83 463.21,285.33 463.38,284.45 463.56,285.50 463.73,284.72 463.91,285.50 464.08,285.50 464.26,285.50 464.43,285.18 464.61,285.50 464.79,285.50 464.96,284.47 465.14,285.50 465.31,285.37 465.49,285.13 465.66,285.50 465.84,285.16 466.01,285.04 466.19,285.49 466.37,284.85 466.54,285.49 466.72,285.48 466.89,285.47 467.07,285.46 467.24,285.48 467.42,285.45 467.59,285.42 467.77,285.46 467.95,285.47 468.12,285.35 468.30,285.33 468.47,285.36 468.65,285.27 468.82,285.15 469.00,285.45 469.17,285.21 469.35,284.66 469.53,285.26 469.70,285.10 469.88,285.25 470.05,284.87 470.23,284.79 470.40,284.67 470.58,284.73 470.75,284.63 470.93,284.99 471.11,284.55 471.28,284.84 471.46,284.19 471.63,285.38 471.81,284.64 471.98,284.67 472.16,285.26 472.33,284.17 472.51,284.79 472.68,284.74 472.86,283.32 473.04,284.36 473.21,284.77 473.39,284.76 473.56,285.02 473.74,285.21 473.91,284.97 474.09,285.19 474.26,284.94 474.44,284.86 474.62,284.94 474.79,284.73 474.97,283.44 475.14,285.02 475.32,285.46 475.49,285.03 475.67,285.28 475.84,284.31 476.02,285.07 476.20,285.01 476.37,285.21 476.55,285.41 476.72,285.40 476.90,284.52 477.07,284.95 477.25,284.61 477.42,283.90 477.60,284.58 477.78,284.61 477.95,283.53 478.13,283.36 478.30,283.74 478.48,284.59 478.65,284.49 478.83,284.32 479.00,284.85 479.18,284.82 479.36,284.48 479.53,283.62 479.71,284.31 479.88,284.41 480.06,284.15 480.23,284.64 480.41,284.57 480.58,284.84 480.76,284.67 480.94,283.88 481.11,284.98 481.29,284.16 481.46,284.88 481.64,285.40 481.81,285.08 481.99,284.72 482.16,285.10 482.34,285.15 482.51,285.14 482.69,285.03 482.87,285.42 483.04,284.70 483.22,283.97 483.39,283.79 483.57,282.49 483.74,284.64 483.92,283.62 484.09,283.56 484.27,283.36 484.45,283.10 484.62,282.52 484.80,281.30 484.97,282.32 485.15,283.55 485.32,284.28 485.50,284.21 485.67,284.53 485.85,283.24 486.03,282.65 486.20,285.27 486.38,283.17 486.55,283.19 486.73,284.96 486.90,283.68 487.08,283.53 487.25,284.79 487.43,284.09 487.61,285.35 487.78,284.69 487.96,285.17 488.13,285.40 488.31,285.42 488.48,285.39 488.66,285.36 488.83,285.39 489.01,285.30 489.19,285.04 489.36,285.13 489.54,284.94 489.71,284.78 489.89,284.64 490.06,284.36 490.24,284.06 490.41,284.08 490.59,283.61 490.77,285.24 490.94,284.16 491.12,283.19 491.29,284.04 491.47,283.55 491.64,285.20 491.82,283.07 491.99,281.39 492.17,283.42 492.34,283.91 492.52,283.43 492.70,283.53 492.87,282.93 493.05,283.52 493.22,284.85 493.40,283.66 493.57,283.85 493.75,283.99 493.92,284.91 494.10,284.40 494.28,284.72 494.45,284.88 494.63,285.06 494.80,283.77 494.98,285.20 495.15,285.48 495.33,285.20 495.50,284.49 495.68,285.45 495.86,285.47 496.03,285.47 496.21,285.46 496.38,284.52 496.56,282.71 496.73,285.47 496.91,285.45 497.08,284.38 497.26,284.66 497.44,285.19 497.61,284.29 497.79,285.36 497.96,285.04 498.14,284.40 498.31,285.10 498.49,284.59 498.66,284.35 498.84,284.01 499.02,284.38 499.19,284.76 499.37,283.50 499.54,283.34 499.72,283.62 499.89,282.45 500.07,281.73 500.24,282.70 500.42,282.44 500.60,282.28 500.77,280.10 500.95,284.34 501.12,283.27 501.30,279.85 501.47,281.27 501.65,281.99 501.82,280.60 502.00,283.42 502.17,282.29 502.35,281.60 502.53,281.36 502.70,282.96 502.88,282.49 503.05,282.17 503.23,281.49 503.40,283.52 503.58,283.02 503.75,282.43 503.93,283.16 504.11,283.67 504.28,284.32 504.46,284.63 504.63,285.43 504.81,285.17 504.98,284.47 505.16,285.15 505.33,285.19 505.51,284.60 505.69,283.17 505.86,283.50 506.04,284.64 506.21,284.23 506.39,284.20 506.56,283.86 506.74,284.23 506.91,283.96 507.09,283.34 507.27,283.80 507.44,281.64 507.62,283.73 507.79,282.11 507.97,280.40 508.14,280.01 508.32,281.26 508.49,282.90 508.67,280.15 508.85,279.91 509.02,283.71 509.20,278.69 509.37,281.35 509.55,280.53 509.72,281.36 509.90,282.38 510.07,282.04 510.25,280.73 510.43,283.79 510.60,282.48 510.78,282.96 510.95,282.64 511.13,283.74 511.30,282.78 511.48,284.24 511.65,283.79 511.83,282.60 512.00,284.01 512.18,282.67 512.36,281.53 512.53,281.23 512.71,283.66 512.88,283.70 513.06,282.81 513.23,282.96 513.41,283.13 513.58,279.64 513.76,281.62 513.94,284.00 514.11,279.12 514.29,280.26 514.46,281.99 514.64,282.08 514.81,281.65 514.99,280.51 515.16,281.22 515.34,281.70 515.52,281.75 515.69,283.74 515.87,285.10 516.04,284.76 516.22,284.03 516.39,284.54 516.57,283.75 516.74,285.04 516.92,284.71 517.10,284.75 517.27,285.12 517.45,285.39 517.62,284.96 517.80,285.15 517.97,283.80 518.15,285.48 518.32,285.42 518.50,285.49 518.68,285.15 518.85,285.49 519.03,285.45 519.20,285.49 519.38,285.40 519.55,285.42 519.73,285.42 519.90,285.48 520.08,284.87 520.26,284.87 520.43,284.84 520.61,283.46 520.78,283.60 520.96,281.32 521.13,284.87 521.31,279.77 521.48,278.92 521.66,278.31 521.83,278.63 522.01,277.93 522.19,275.66 522.36,279.61 522.54,283.82 522.71,274.15 522.89,277.89 523.06,277.79 523.24,284.72 523.41,278.08 523.59,280.09 523.77,284.71 523.94,280.06 524.12,283.77 524.29,280.30 524.47,281.02 524.64,281.27 524.82,282.94 524.99,281.98 525.17,282.04 525.35,280.12 525.52,283.50 525.70,282.19 525.87,283.61 526.05,280.61 526.22,282.04 526.40,283.75 526.57,283.99 526.75,280.48 526.93,285.11 527.10,280.90 527.28,282.31 527.45,281.03 527.63,283.33 527.80,282.43 527.98,282.47 528.15,282.62 528.33,283.62 528.51,281.22 528.68,280.93 528.86,283.23 529.03,282.43 529.21,281.51 529.38,282.86 529.56,283.28 529.73,280.84 529.91,282.21 530.09,280.94 530.26,282.11 530.44,284.98 530.61,282.28 530.79,282.48 530.96,282.54 531.14,282.41 531.31,285.11 531.49,284.95 531.66,281.56 531.84,282.03 532.02,279.66 532.19,284.27 532.37,284.35 532.54,278.67 532.72,278.29 532.89,277.67 533.07,275.75 533.24,278.52 533.42,277.76 533.60,284.52 533.77,282.87 533.95,277.91 534.12,281.82 534.30,281.12 534.47,280.02 534.65,282.16 534.82,284.13 535.00,283.82" fill="none" stroke="#D95319" stroke-opacity="0.9" stroke-width="0.5" stroke-linejoin="round"/>
<path d="M44.0,285.5H271.7" stroke="#0072BD" stroke-opacity="0.45" stroke-width="1" fill="none"/>
<path d="M271.7,285.5H534.5" stroke="#D95319" stroke-opacity="0.45" stroke-width="1" fill="none"/>
<g font-family="Liberation Sans, Arial, sans-serif" font-size="8" fill="#222" stroke="#222" stroke-width="0.22" text-rendering="geometricPrecision">
<text x="96.16" y="297.5" text-anchor="middle">500</text>
<text x="183.93" y="297.5" text-anchor="middle">1000</text>
<text x="271.70" y="297.5" text-anchor="middle">1500</text>
<text x="359.46" y="297.5" text-anchor="middle">2000</text>
<text x="447.23" y="297.5" text-anchor="middle">2500</text>
<text x="535.00" y="297.5" text-anchor="middle">3000</text>
<text x="39.2" y="289.10" text-anchor="end">0</text>
<text x="39.2" y="228.27" text-anchor="end">500</text>
<text x="39.2" y="167.83" text-anchor="end">1000</text>
<text x="39.2" y="107.40" text-anchor="end">1500</text>
<text x="39.2" y="46.96" text-anchor="end">2000</text>
</g>
<g font-family="Liberation Serif, Times New Roman, serif" font-size="13.2" fill="#000" text-rendering="geometricPrecision">
<text x="234" y="315.7" font-size="12.9">Wavenumber (cm<tspan font-size="10" dy="-4.6" dx="0.6"> −1</tspan><tspan dy="4.6" dx="1.2">)</tspan></text>
<text transform="translate(16.4,146.8) rotate(-90)" text-anchor="middle">Intensity (a.u.)</text>
<text x="397.3" y="27.6">Low-wavenumber band</text>
<text x="397.3" y="43.1">High-wavenumber band</text>
<g font-size="12.3" text-rendering="geometricPrecision">
<text transform="translate(53.0,249.5) rotate(-90)">217</text>
<text transform="translate(69.4,222.5) rotate(-90)">332</text>
<text transform="translate(80.8,177.1) rotate(-90)">394.5</text>
<text transform="translate(91.4,254.2) rotate(-90)">468.1</text>
<text transform="translate(103.7,241.9) rotate(-90)">507.4</text>
<text transform="translate(126.5,170.3) rotate(-90)">653.5</text>
<text transform="translate(137.0,241.3) rotate(-90)">713.5</text>
<text transform="translate(151.5,156.6) rotate(-90)">800</text>
<text transform="translate(156.8,213.8) rotate(-90)">836.2</text>
<text transform="translate(162.4,68.8) rotate(-90)">861.3</text>
<text transform="translate(181.3,249.1) rotate(-90)">970.5</text>
<text transform="translate(216.4,168.8) rotate(-90)" font-size="12.1">1170.2</text>
<text transform="translate(228.1,174.8) rotate(-90)" font-size="12.1">1239.1</text>
<text transform="translate(235.8,214.8) rotate(-90)" font-size="12.1">1279.9</text>
<text transform="translate(245.2,137.6) rotate(-90)" font-size="12.1">1326.2</text>
<text transform="translate(251.8,222.4) rotate(-90)" font-size="12.1">1373.1</text>
<text transform="translate(285.9,243.2) rotate(-90)" font-size="12.1">1563.8</text>
<text transform="translate(295.4,205.2) rotate(-90)" font-size="12.1">1612.4</text>
</g>
</g>
<path d="M370,22.9H394.6" stroke="#0072BD" stroke-width="0.6" fill="none"/>
<path d="M370,38.6H394.6" stroke="#D95319" stroke-width="0.6" fill="none"/>
</svg>
</body></html>
